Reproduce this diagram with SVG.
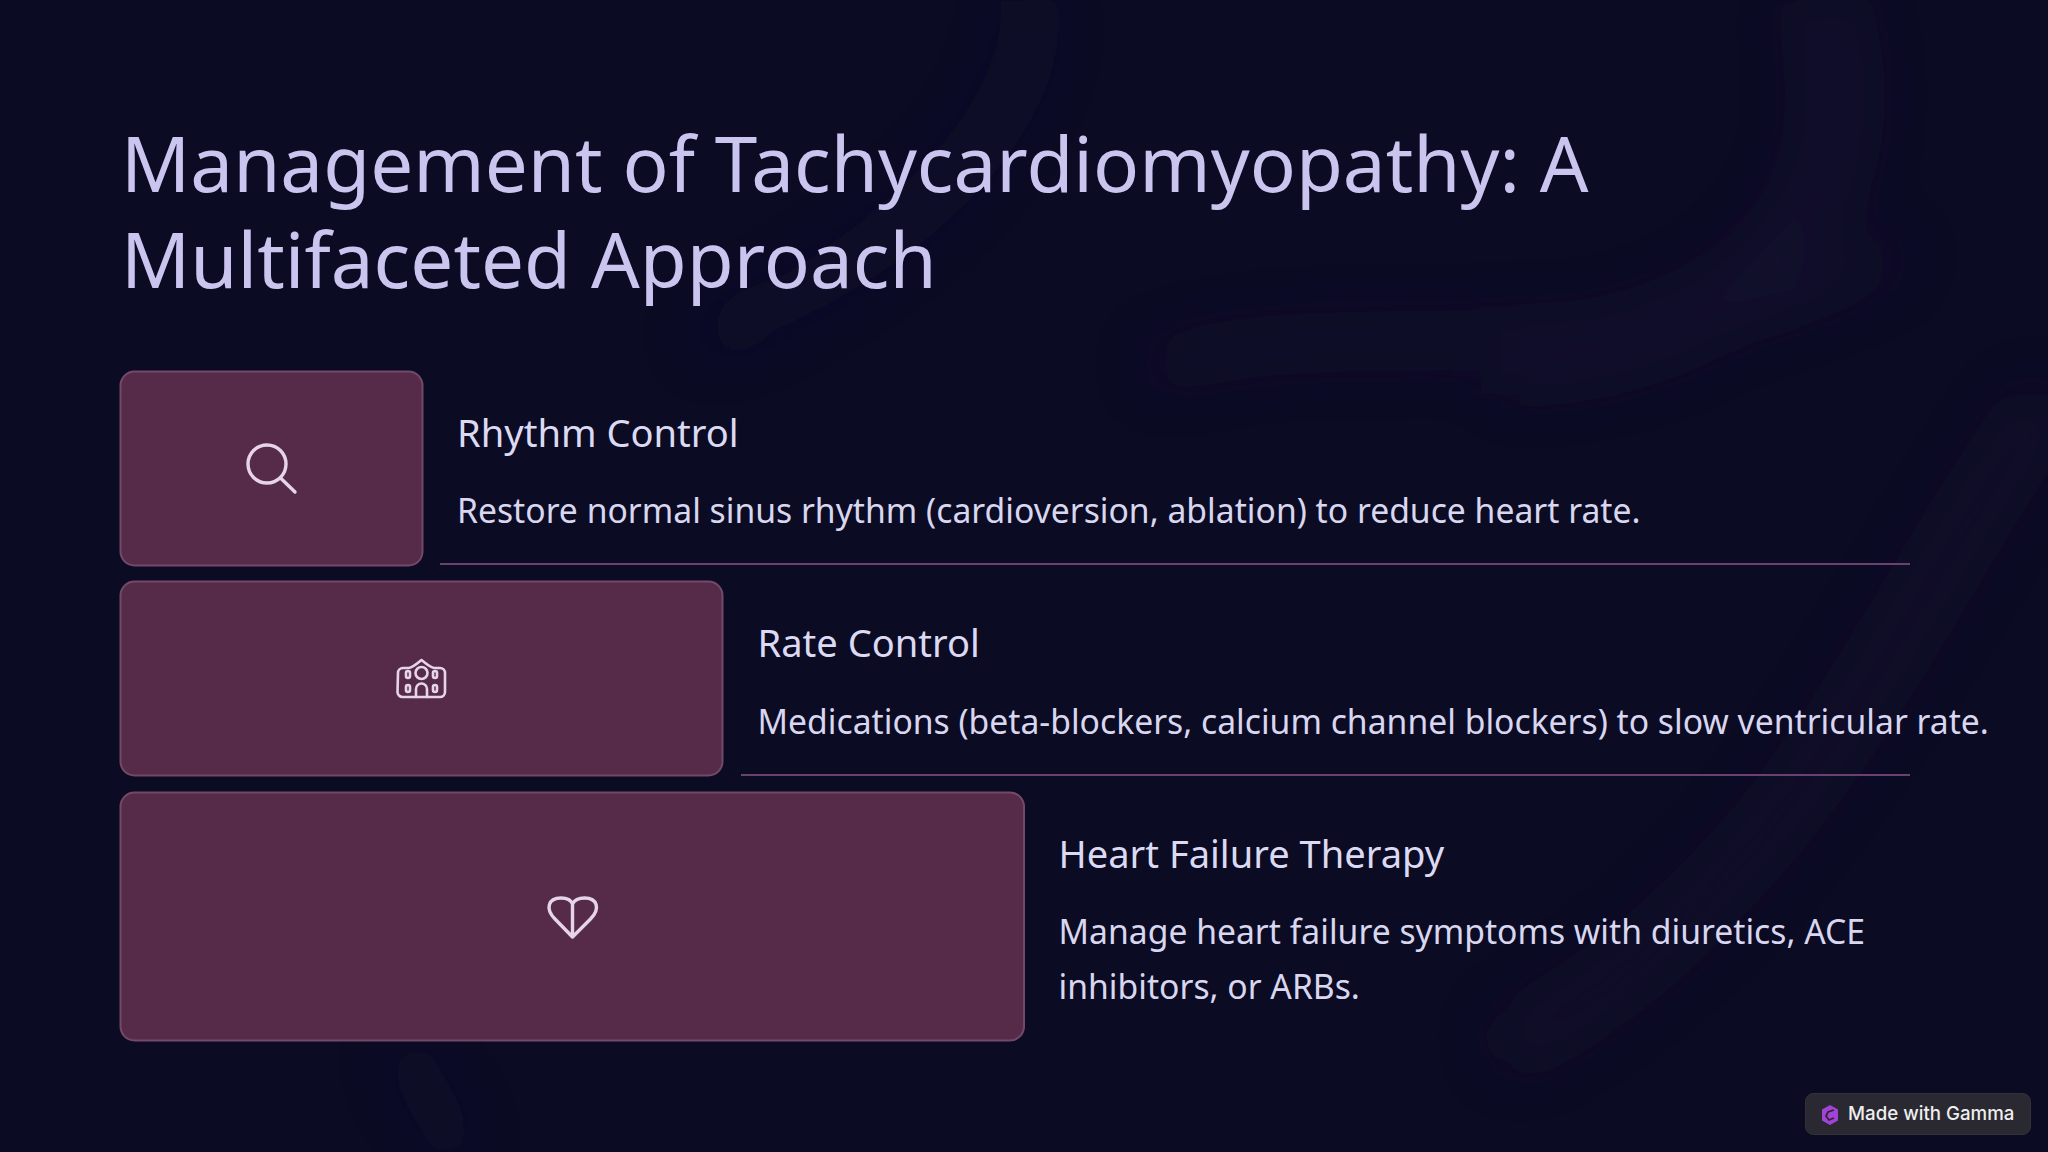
<svg xmlns="http://www.w3.org/2000/svg" width="2048" height="1152" viewBox="0 0 2048 1152">
<defs>
<style>
text{font-family:"Noto Sans",sans-serif}
.t{font-size:76.400px;fill:#c9c5ef}
.h{font-size:38.100px;fill:#dcdaf2}
.b{font-size:33.700px;fill:#d9d7ef}
.card{fill:#562b49;stroke:#744869;stroke-width:2}
.ln{stroke:#6a4270;stroke-width:2;fill:none}
.ic{fill:none;stroke:#e6d5e8;stroke-width:3.400;stroke-linecap:round;stroke-linejoin:round}
.ic2{fill:none;stroke:#e6d5e8;stroke-width:2.600;stroke-linecap:round;stroke-linejoin:round}
</style>
<filter id="blur" x="-30%" y="-30%" width="160%" height="160%"><feGaussianBlur stdDeviation="30"/></filter>
</defs>
<rect width="2048" height="1152" fill="#0b0b24"/>
<g filter="url(#blur)" fill="none" opacity="0.45">
<path d="M1030 0C1040 120 900 260 700 340" stroke="#17143a" stroke-width="30"/>
<path d="M1150 370C1350 300 1600 400 1900 250" stroke="#1a1538" stroke-width="30"/>
<path d="M1820 0C1880 200 1760 350 1500 360" stroke="#1e1338" stroke-width="60"/>
<path d="M2048 400C1900 600 1800 900 1500 1050" stroke="#1a1230" stroke-width="50"/>
<path d="M400 1050C430 1100 450 1130 460 1152" stroke="#16143a" stroke-width="24"/>
</g>
<text class="t" x="121" y="191.500">Management of Tachycardiomyopathy: A</text>
<text class="t" x="121" y="287.500">Multifaceted Approach</text>
<g id="connectors">
<path class="ln" d="M440 564H1910"/>
<path class="ln" d="M741 775H1910"/>
</g>
<g id="node-rhythm">
<rect class="card" x="120.500" y="371.500" width="302" height="194" rx="14"/>
<circle class="ic" cx="267" cy="464" r="19"/>
<path class="ic" d="M280.500 478L295 492"/>
<text class="h" x="457" y="447">Rhythm Control</text>
<text class="b" x="457" y="523">Restore normal sinus rhythm (cardioversion, ablation) to reduce heart rate.</text>
</g>
<g id="node-rate">
<rect class="card" x="120.500" y="581.500" width="602" height="194" rx="14"/>
<path class="ic2" d="M398 673a5 5 0 0 1 5-5h5.500c1.500 0 7-3 13-8 6 5 11.500 8 13 8h5.500a5 5 0 0 1 5 5v19a5 5 0 0 1-5 5h-37.500a5 5 0 0 1-5-5z"/>
<circle class="ic2" cx="421.500" cy="673" r="6"/>
<path class="ic2" d="M416 697v-8a5.500 5.500 0 0 1 11 0v8M406 673a2 2 0 0 1 4 0v3a2 2 0 0 1-4 0zM406 687a2 2 0 0 1 4 0v3a2 2 0 0 1-4 0zM433 673a2 2 0 0 1 4 0v3a2 2 0 0 1-4 0zM433 687a2 2 0 0 1 4 0v3a2 2 0 0 1-4 0z"/>
<text class="h" x="757.500" y="657">Rate Control</text>
<text class="b" x="757.500" y="734">Medications (beta-blockers, calcium channel blockers) to slow ventricular rate.</text>
</g>
<g id="node-heart">
<rect class="card" x="120.500" y="792.500" width="903.500" height="248" rx="14"/>
<path class="ic" d="M572.500 937L555 919C545 909 548 898 561 898C566 898 571 900 572.500 904C574.500 900 579 898 584.500 898C597.500 898 600.500 909 590.500 919ZM572.500 904V937"/>
<text class="h" x="1058.500" y="868">Heart Failure Therapy</text>
<text class="b" x="1058.500" y="944">Manage heart failure symptoms with diuretics, ACE</text>
<text class="b" x="1058.500" y="999">inhibitors, or ARBs.</text>
</g>
<g id="badge">
<rect x="1805.500" y="1093.500" width="225" height="41" rx="8" fill="#2a2830" stroke="#33323a"/>
<path d="M1830 1105l8 4.500v11l-8 4.500-8-4.500v-11z" fill="#a044d8"/>
<path d="M1834 1110l-6 2-2 4 3 4 5-2" fill="none" stroke="#3a2030" stroke-width="1.800"/>
<text x="1848" y="1120" style="font-family:Inter,sans-serif;font-size:18.700px;font-weight:500;fill:#eeeeee">Made with Gamma</text>
</g>
</svg>
